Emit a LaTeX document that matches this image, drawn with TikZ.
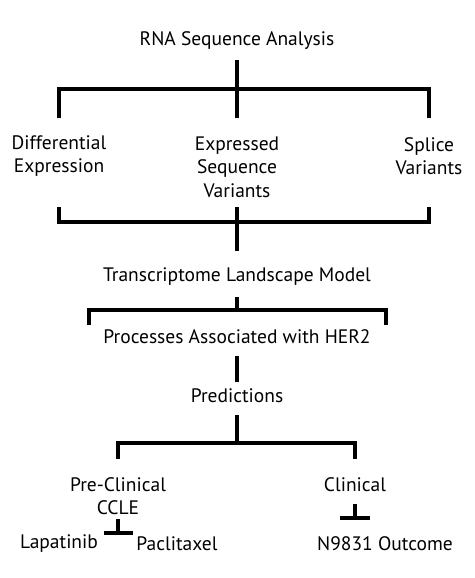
\documentclass[tikz,border=0pt]{standalone}
\usepackage{fontspec}
\setmainfont{PT Sans}

\begin{document}
\begin{tikzpicture}[x=1pt,y=-1pt,
  txt/.style={font=\fontsize{19.5}{23.5}\selectfont,align=center,inner sep=0pt},
  bar/.style={line width=3.5pt}]
\useasboundingbox (0,0) rectangle (474,578);

% Text nodes
\node[txt] (rna) at (237,41) {RNA Sequence Analysis};
\node[txt] (diff) at (59,156) {Differential\\Expression};
\node[txt] (esv) at (237,167) {Expressed\\Sequence\\Variants};
\node[txt] (splice) at (429,156) {Splice\\Variants};
\node[txt] (tlm) at (237,277) {Transcriptome Landscape Model};
\node[txt] (her2) at (237,337) {Processes Associated with HER2};
\node[txt] (pred) at (237,396) {Predictions};
\node[txt] (precl) at (118,496) {Pre-Clinical\\CCLE};
\node[txt] (clin) at (355,485) {Clinical};
\node[txt] (lap) at (59,544) {Lapatinib};
\node[txt] (pac) at (177,544) {Paclitaxel};
\node[txt] (outc) at (385,544) {N9831 Outcome};

% Bracket corners
\coordinate (s1) at (237,60);
\coordinate (s2) at (237,118);
\coordinate (b1) at (59,118);
\coordinate (b2) at (59,89);
\coordinate (b3) at (429,89);
\coordinate (b4) at (429,118);

\coordinate (c1) at (59,207);
\coordinate (c2) at (59,222);
\coordinate (c3) at (429,222);
\coordinate (c4) at (429,207);
\coordinate (s3) at (237,207);
\coordinate (s4) at (237,251);

\coordinate (s5) at (237,297);
\coordinate (s6) at (237,310);
\coordinate (d1) at (89,325);
\coordinate (d2) at (89,310);
\coordinate (d3) at (386,310);
\coordinate (d4) at (386,325);

\coordinate (s7) at (237,356);
\coordinate (s8) at (237,382);

\coordinate (s9) at (237,415);
\coordinate (s10) at (237,443);
\coordinate (e1) at (118,459);
\coordinate (e2) at (118,443);
\coordinate (e3) at (355,443);
\coordinate (e4) at (355,459);

\coordinate (t1) at (118,519);
\coordinate (t2) at (118,533);
\coordinate (t3) at (104,533);
\coordinate (t4) at (133,533);

\coordinate (u1) at (355,504);
\coordinate (u2) at (355,518);
\coordinate (u3) at (340,518);
\coordinate (u4) at (370,518);

% Draw connectors
\draw[bar] (s1) -- (s2);
\draw[bar] (b1) -- (b2) -- (b3) -- (b4);
\draw[bar] (c1) -- (c2) -- (c3) -- (c4);
\draw[bar] (s3) -- (s4);
\draw[bar] (s5) -- (s6);
\draw[bar] (d1) -- (d2) -- (d3) -- (d4);
\draw[bar] (s7) -- (s8);
\draw[bar] (s9) -- (s10);
\draw[bar] (e1) -- (e2) -- (e3) -- (e4);
\draw[bar] (t1) -- (t2);
\draw[bar] (t3) -- (t4);
\draw[bar] (u1) -- (u2);
\draw[bar] (u3) -- (u4);
\end{tikzpicture}
\end{document}
